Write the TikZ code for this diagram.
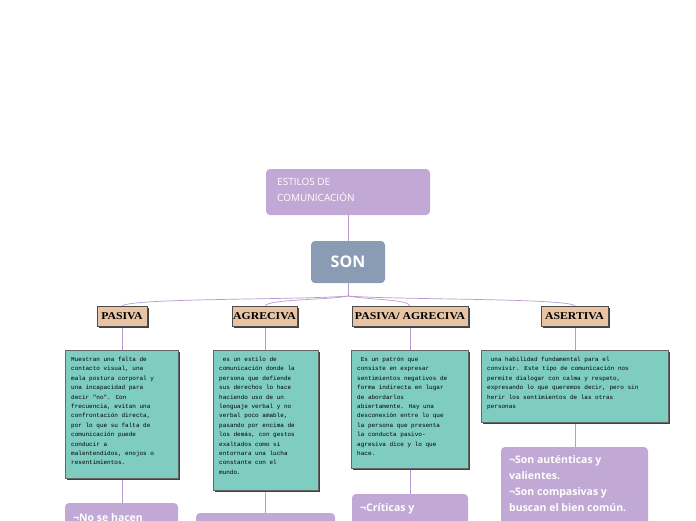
\documentclass[tikz,border=0pt]{standalone}
\usepackage{fontspec}
\setmainfont{Open Sans}
\newfontfamily\hdfont{Liberation Serif}
\newfontfamily\mono{Liberation Mono}
\definecolor{purp}{HTML}{C2A8D4}
\definecolor{slate}{HTML}{8A9BB4}
\definecolor{tan}{HTML}{E8C4A4}
\definecolor{teal}{HTML}{7FCDC0}
\definecolor{lnk}{HTML}{B89AD0}
\begin{document}
\begin{tikzpicture}[x=1pt,y=-1pt,
  pbox/.style={fill=purp,rounded corners=4pt,draw=none},
  tbox/.style={fill=teal,draw=black!60,line width=0.5pt},
  shad/.style={fill=black!75},
  lk/.style={draw=lnk,line width=0.7pt},
  mt/.style={font=\mono\fontsize{6}{9.4}\selectfont,align=left,anchor=north west,inner sep=0pt},
  pt/.style={font=\bfseries\fontsize{10.5}{16}\selectfont,text=white,align=left,anchor=north west,inner sep=0pt}]
\useasboundingbox (0,0) rectangle (696,520);
\begin{scope}
\clip (0,0) rectangle (696,520);
% connectors
\coordinate (j) at (348,296);
\draw[lk] (348,215) -- (348,241);
\draw[lk] (348,283) -- (j);
\draw[lk] (j) .. controls (300,300) and (130,298) .. (122,306);
\draw[lk] (j) .. controls (330,300) and (268,299) .. (265,306);
\draw[lk] (j) .. controls (370,300) and (408,299) .. (410,306);
\draw[lk] (j) .. controls (400,300) and (570,298) .. (575,306);
\foreach \x/\a/\b in {122/326/350,122/478/503,265/326/350,265/490/513,410/326/350,410/468/494,575/326/350,575/422/447}
  \draw[lk] (\x,\a) -- (\x,\b);
% top
\fill[pbox] (266,169) rectangle (430,215);
\node[font=\fontsize{10}{16}\selectfont,text=white,align=left,anchor=north west,inner sep=0pt] (t) at (277,178) {ESTILOS DE\\COMUNICACIÓN};
\fill[pbox,fill=slate] (311,241) rectangle (385,283);
\node[font=\fontsize{16}{18}\selectfont\bfseries,text=white] (son) at (348,262) {SON};
% headers
\foreach \a/\b/\t in {97/147/{PASIVA},232/297/{AGRECIVA},352/468/{PASIVA/ AGRECIVA},541/608/{ASERTIVA}}{
  \fill[shad] (\a+2,308) rectangle (\b+2,328);
  \filldraw[fill=tan,draw=black!70,line width=0.6pt] (\a,306) rectangle (\b,326);
  \node[font=\hdfont\bfseries\fontsize{10.5}{11}\selectfont,xscale=1.12] at ({(\a+\b)/2},316.5) {\t};
}
% teal
\foreach \a/\b/\c in {65/178/478,213/318/490,351/468/468,481/668/422}{
  \fill[shad] (\a+2,352) rectangle (\b+2,\c+2);
  \filldraw[tbox] (\a,350) rectangle (\b,\c);
}
\node[mt] (m1) at (71,357) {Muestran una falta de\\contacto visual, una\\mala postura corporal y\\una incapacidad para\\decir "no". Con\\frecuencia, evitan una\\confrontación directa,\\por lo que su falta de\\comunicación puede\\conducir a\\malentendidos, enojos o\\resentimientos.};
\node[mt] (m2) at (219,357) {\ es un estilo de\\comunicación donde la\\persona que defiende\\sus derechos lo hace\\haciendo uso de un\\lenguaje verbal y no\\verbal poco amable,\\pasando por encima de\\los demás, con gestos\\exaltados como si\\entornara una lucha\\constante con el\\mundo.};
\node[mt] (m3) at (357,357) {\ Es un patrón que\\consiste en expresar\\sentimientos negativos de\\forma indirecta en lugar\\de abordarlos\\abiertamente. Hay una\\desconexión entre lo que\\la persona que presenta\\la conducta pasivo-\\agresiva dice y lo que\\hace.};
\node[mt] (m4) at (487,357) {\ una habilidad fundamental para el\\convivir. Este tipo de comunicación nos\\permite dialogar con calma y respeto,\\expresando lo que queremos decir, pero sin\\herir los sentimientos de las otras\\personas};
% purple bottoms
\fill[pbox] (65,503) rectangle (178,540);
\node[pt] (p1) at (73,513) {¬No se hacen};
\fill[pbox] (196,513) rectangle (335,540);
\fill[pbox] (352,494) rectangle (468,540);
\node[pt] (p3) at (360,503) {¬Críticas y};
\fill[pbox] (501,447) rectangle (648,540);
\node[pt] (p4) at (509,455) {¬Son auténticas y\\valientes.\\¬Son compasivas y\\buscan el bien común.};
\end{scope}
\end{tikzpicture}
\end{document}
